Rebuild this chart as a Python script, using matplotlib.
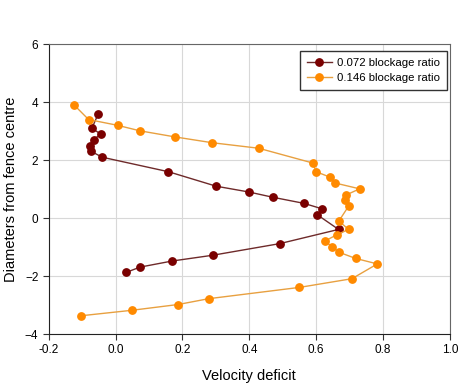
import matplotlib
matplotlib.use("Agg")
import matplotlib.pyplot as plt

# -------------------------
# DATA
# -------------------------
low_deficit = [-0.052, -0.071, -0.045, -0.066, -0.078, -0.073, -0.040, 0.158, 0.301,
               0.399, 0.470, 0.563, 0.618, 0.604, 0.667, 0.491, 0.291, 0.169, 0.073, 0.032]
low_diam = [3.6, 3.1, 2.9, 2.7, 2.5, 2.3, 2.1, 1.6, 1.1,
            0.9, 0.72, 0.51, 0.32, 0.11, -0.39, -0.88, -1.28, -1.48, -1.69, -1.87]

high_deficit = [-0.125, -0.081, 0.006, 0.073, 0.178, 0.289, 0.428, 0.590, 0.600, 0.642,
                0.657, 0.730, 0.690, 0.686, 0.697, 0.668, 0.697, 0.661, 0.626, 0.647,
                0.669, 0.718, 0.783, 0.707, 0.550, 0.278, 0.187, 0.048, -0.105]
high_diam = [3.91, 3.40, 3.20, 3.01, 2.80, 2.60, 2.41, 1.90, 1.60, 1.41,
             1.21, 1.01, 0.80, 0.61, 0.41, -0.10, -0.39, -0.58, -0.79, -0.98,
             -1.18, -1.39, -1.58, -2.09, -2.39, -2.78, -2.98, -3.18, -3.37]

series_labels = ["0.072 blockage ratio", "0.146 blockage ratio"]
x_ticks = [-0.2, 0.0, 0.2, 0.4, 0.6, 0.8, 1.0]
y_ticks = [-4, -2, 0, 2, 4, 6]

plt.rcParams["font.family"] = ["Liberation Sans", "DejaVu Sans"]

fig = plt.figure(figsize=(4.74, 3.84), dpi=100)
ax = fig.add_axes([0.103, 0.130, 0.846, 0.755])

ax.plot(low_deficit, low_diam, color="#6e2a2a", linewidth=1.0, marker="o",
        markersize=5.3, markerfacecolor="#7a0000", markeredgecolor="#7a0000",
        label=series_labels[0], zorder=3)
ax.plot(high_deficit, high_diam, color="#e8a040", linewidth=1.0, marker="o",
        markersize=5.3, markerfacecolor="#ff8a00", markeredgecolor="#ff8a00",
        label=series_labels[1], zorder=3)

ax.set_xlim(-0.2, 1.0)
ax.set_ylim(-4, 6)
ax.set_xticks(x_ticks)
ax.set_xticklabels([f"{t:.1f}" for t in x_ticks])
ax.set_yticks(y_ticks)
ax.tick_params(direction="out", labelsize=8.5, length=4, width=0.8, color="#333333")
ax.grid(True, color="#d8d8d8", linewidth=0.8)
ax.set_axisbelow(True)
for side in ["left", "bottom"]:
    ax.spines[side].set_color("#222222")
for side in ["top", "right"]:
    ax.spines[side].set_color("#666666")

ax.set_xlabel("Velocity deficit", fontsize=10.5, labelpad=9)
ax.set_ylabel("Diameters from fence centre", fontsize=10.5, labelpad=5)

leg = ax.legend(loc="upper right", fontsize=8.2, fancybox=False, framealpha=1,
                edgecolor="#333333", borderpad=0.6, handlelength=2.2,
                handletextpad=0.45, labelspacing=0.45, borderaxespad=0,
                bbox_to_anchor=(0.9925, 0.976))
leg.get_frame().set_linewidth(1.0)

fig.savefig("out.png", dpi=100)
